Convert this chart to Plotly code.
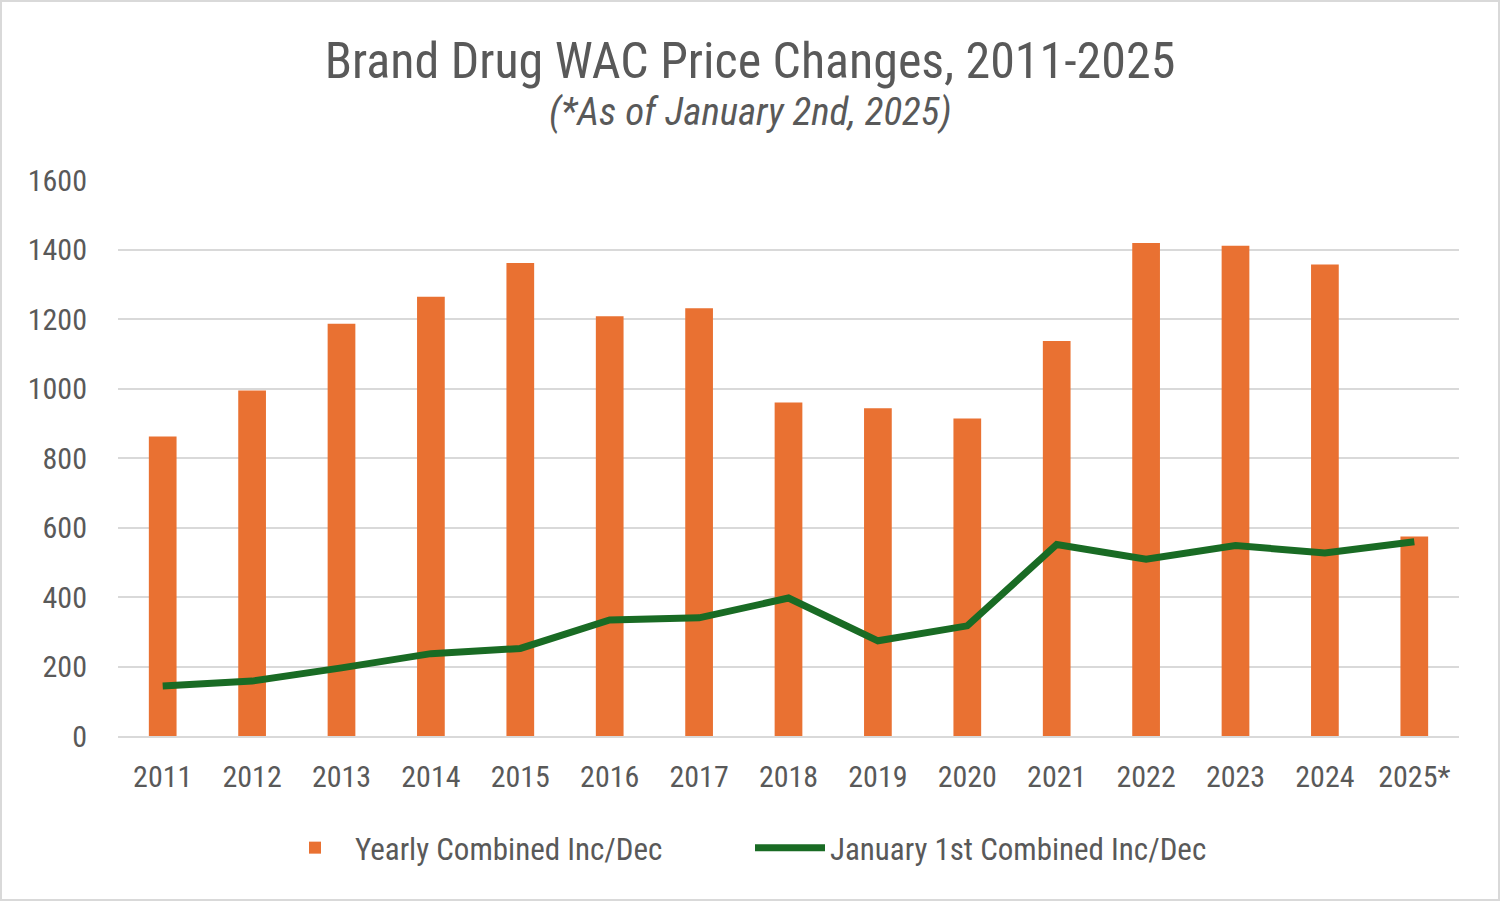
import plotly.graph_objects as go

# datos
years = ["2011", "2012", "2013", "2014", "2015", "2016", "2017", "2018",
         "2019", "2020", "2021", "2022", "2023", "2024", "2025*"]
yearly_combined = [862, 994, 1186, 1264, 1361, 1208, 1231, 960,
                   943, 914, 1137, 1419, 1411, 1357, 574]
jan1_combined = [144, 158, 196, 237, 252, 334, 340, 397,
                 274, 317, 551, 509, 548, 527, 559]
y_ticks = [0, 200, 400, 600, 800, 1000, 1200, 1400, 1600]

FONT = "Liberation Sans Narrow, Roboto Condensed, DejaVu Sans Condensed, sans-serif"
GRIS = "#595959"

fig = go.Figure()
fig.add_trace(go.Bar(x=years, y=yearly_combined, name="Yearly Combined Inc/Dec",
                     marker=dict(color="#E97132", line=dict(width=0))))
fig.add_trace(go.Scatter(x=years, y=jan1_combined, name="January 1st Combined Inc/Dec",
                         mode="lines", line=dict(color="#196B24", width=7)))

W, H = 1500, 901
ml, mr, mt, mb = 118, 41, 180, 165
pw, ph = W - ml - mr, H - mt - mb

fig.update_layout(
    width=W, height=H,
    paper_bgcolor="white", plot_bgcolor="white",
    margin=dict(l=ml, r=mr, t=mt, b=mb),
    bargap=0.69,
    font=dict(family=FONT, color=GRIS, size=24),
    title=dict(
        text="Brand Drug WAC Price Changes, 2011-2025",
        x=0.5, xanchor="center", y=1 - 60 / H, yanchor="middle",
        font=dict(size=50, color=GRIS, family=FONT),
    ),
    legend=dict(orientation="h", x=0.5 - (ml - mr) / 2 / pw, xanchor="center",
                y=-(848 - 736) / ph, yanchor="middle",
                font=dict(size=31, color=GRIS), itemwidth=70, entrywidth=390,
                traceorder="normal"),
    showlegend=True,
)
fig.add_annotation(text="<i>(*As of January 2nd, 2025)</i>", xref="paper", yref="paper",
                   x=0.5 - (ml - mr) / 2 / pw, y=1 + (mt - 112) / ph, xanchor="center",
                   yanchor="middle", showarrow=False, font=dict(size=39, color=GRIS))
fig.update_yaxes(range=[0, 1600], tickvals=y_ticks, showgrid=True, gridcolor="#D9D9D9",
                 gridwidth=1.5, zeroline=False, showline=False, ticks="",
                 ticklabelstandoff=30, tickfont=dict(size=30, color=GRIS))
fig.update_xaxes(showgrid=False, showline=True, linecolor="#D9D9D9", linewidth=1.5,
                 ticks="", tickfont=dict(size=30, color=GRIS), ticklabelstandoff=13)

# marco del gráfico
fig.add_shape(type="rect", xref="paper", yref="paper",
              x0=-(ml - 1) / pw, x1=1 + (mr - 1) / pw,
              y0=-(mb - 1) / ph, y1=1 + (mt - 1) / ph,
              line=dict(color="#D9D9D9", width=2), fillcolor="rgba(0,0,0,0)", layer="below")

fig.write_html("out.html", config={"displayModeBar": False},
               post_script="document.body.style.margin='0px';")
